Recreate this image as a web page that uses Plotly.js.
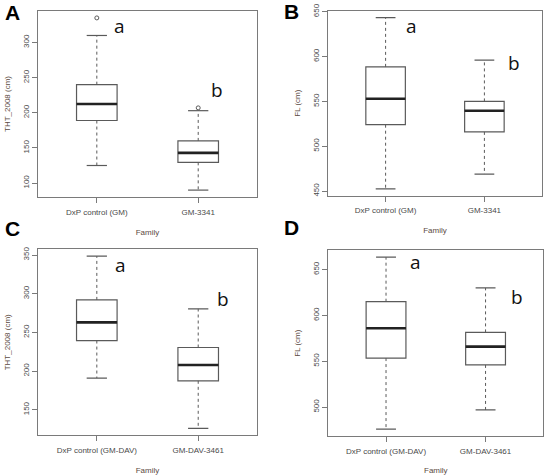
<!DOCTYPE html>
<html>
<head>
<meta charset="utf-8">
<script src="https://cdn.plot.ly/plotly-3.0.1.min.js"></script>
<style>
  body { margin: 0; background: #fff; }
  #chart { width: 550px; height: 475px; }
</style>
</head>
<body>
<div id="chart"></div>
<script>
// categories
const families_gm = ["DxP control (GM)", "GM-3341"];
const families_dav = ["DxP control (GM-DAV)", "GM-DAV-3461"];

// A: THT_2008, GM
const tht_gm_lower = [125, 90];
const tht_gm_q1 = [189, 129.5];
const tht_gm_median = [212.5, 143];
const tht_gm_q3 = [240, 160];
const tht_gm_upper = [310, 203];
const tht_gm_outliers = [[335], [207]];

// B: FL, GM
const fl_gm_lower = [452.5, 469];
const fl_gm_q1 = [524, 516];
const fl_gm_median = [553, 539.5];
const fl_gm_q3 = [588.5, 550];
const fl_gm_upper = [643.5, 596];
const fl_gm_outliers = [[], []];

// C: THT_2008, GM-DAV
const tht_dav_lower = [191, 126];
const tht_dav_q1 = [239.5, 187.5];
const tht_dav_median = [263, 208];
const tht_dav_q3 = [292, 230.5];
const tht_dav_upper = [348.5, 280.5];
const tht_dav_outliers = [[], []];

// D: FL, GM-DAV
const fl_dav_lower = [476, 497];
const fl_dav_q1 = [553.5, 546];
const fl_dav_median = [586, 566];
const fl_dav_q3 = [615, 581.5];
const fl_dav_upper = [663.5, 630];
const fl_dav_outliers = [[], []];

// tick labels
const ticks_a = [100, 150, 200, 250, 300];
const ticks_b = [450, 500, 550, 600, 650];
const ticks_c = [150, 200, 250, 300, 350];
const ticks_d = [500, 550, 600, 650];

// significance letters
const letters = ["a", "b"];

const GREY = '#5a5a5a';
const FRAME = '#7a7a7a';
const BOXW = 0.4;

const make_panel = (ax, st) => {
    const xa = 'x' + ax, ya = 'y' + ax;
    const pos = [1, 2];
    const traces = [];
    traces.push({
        type: 'box', x: pos, q1: st.q1, median: st.median, q3: st.q3,
        lowerfence: st.q1, upperfence: st.q3, width: BOXW,
        fillcolor: 'white', line: {color: GREY, width: 1.2},
        boxpoints: false, hoverinfo: 'skip', xaxis: xa, yaxis: ya
    });
    // dashed whiskers
    let wx = [], wy = [];
    pos.forEach((p, i) => {
        wx.push(p, p, null, p, p, null);
        wy.push(st.q3[i], st.upper[i], null, st.q1[i], st.lower[i], null);
    });
    traces.push({type: 'scatter', mode: 'lines', x: wx, y: wy, xaxis: xa, yaxis: ya,
        line: {color: GREY, width: 1, dash: '3px,3px'}, hoverinfo: 'skip'});
    // staples
    let sx = [], sy = [];
    pos.forEach((p, i) => {
        sx.push(p - BOXW / 4, p + BOXW / 4, null, p - BOXW / 4, p + BOXW / 4, null);
        sy.push(st.upper[i], st.upper[i], null, st.lower[i], st.lower[i], null);
    });
    traces.push({type: 'scatter', mode: 'lines', x: sx, y: sy, xaxis: xa, yaxis: ya,
        line: {color: GREY, width: 1.2}, hoverinfo: 'skip'});
    // medians
    let mx = [], my = [];
    pos.forEach((p, i) => {
        mx.push(p - BOXW / 2, p + BOXW / 2, null);
        my.push(st.median[i], st.median[i], null);
    });
    traces.push({type: 'scatter', mode: 'lines', x: mx, y: my, xaxis: xa, yaxis: ya,
        line: {color: '#222', width: 2.6}, hoverinfo: 'skip'});
    // outliers
    let ox = [], oy = [];
    pos.forEach((p, i) => st.out[i].forEach(v => { ox.push(p); oy.push(v); }));
    traces.push({type: 'scatter', mode: 'markers', x: ox, y: oy, xaxis: xa, yaxis: ya,
        marker: {symbol: 'circle-open', size: 4, color: GREY, line: {width: 1}}, hoverinfo: 'skip'});
    return traces;
};

// R style y range: data range extended by 4%
const r_range = (st) => {
    const all = [].concat(st.lower, st.upper, ...st.out);
    const lo = Math.min(...all), hi = Math.max(...all);
    const pad = (hi - lo) * 0.04;
    return [lo - pad, hi + pad];
};

const panels = [
    {ax: '', st: {lower: tht_gm_lower, q1: tht_gm_q1, median: tht_gm_median, q3: tht_gm_q3, upper: tht_gm_upper, out: tht_gm_outliers},
     fam: families_gm, ticks: ticks_a, ytitle: 'THT_2008 (cm)', dx: [0.0691, 0.4673], dy: [0.5853, 0.9768],
     let_pos: [[1.22, 324], [2.185, 232]], panel: 'A', pxy: [12.5, 12.5]},
    {ax: '2', st: {lower: fl_gm_lower, q1: fl_gm_q1, median: fl_gm_median, q3: fl_gm_q3, upper: fl_gm_upper, out: fl_gm_outliers},
     fam: families_gm, ticks: ticks_b, ytitle: 'FL (cm)', dx: [0.5969, 0.9849], dy: [0.588, 0.9775],
     let_pos: [[1.264, 633.7], [2.30, 592.9]], panel: 'B', pxy: [291, 11.5]},
    {ax: '3', st: {lower: tht_dav_lower, q1: tht_dav_q1, median: tht_dav_median, q3: tht_dav_q3, upper: tht_dav_upper, out: tht_dav_outliers},
     fam: families_dav, ticks: ticks_c, ytitle: 'THT_2008 (cm)', dx: [0.0691, 0.4673], dy: [0.0836, 0.4752],
     let_pos: [[1.235, 337.5], [2.24, 293]], panel: 'C', pxy: [12, 228]},
    {ax: '4', st: {lower: fl_dav_lower, q1: fl_dav_q1, median: fl_dav_median, q3: fl_dav_q3, upper: fl_dav_upper, out: fl_dav_outliers},
     fam: families_dav, ticks: ticks_d, ytitle: 'FL (cm)', dx: [0.5969, 0.9878], dy: [0.0821, 0.473],
     let_pos: [[1.298, 658], [2.32, 619.7]], panel: 'D', pxy: [291, 227]},
];

const W = 550, H = 475;
let data = [];
const layout = {
    width: W, height: H,
    margin: {l: 0, r: 0, t: 0, b: 0},
    paper_bgcolor: 'white', plot_bgcolor: 'white',
    showlegend: false,
    font: {family: 'Liberation Sans, Arial, sans-serif', color: '#444'},
    annotations: []
};

panels.forEach(p => {
    data = data.concat(make_panel(p.ax, p.st));
    const axis_common = {
        showline: true, mirror: true, linecolor: FRAME, linewidth: 1,
        showgrid: false, zeroline: false, ticks: 'outside', ticklen: 5,
        tickcolor: FRAME, tickwidth: 1, tickfont: {size: 8, color: '#4a4a4a'}
    };
    layout['xaxis' + p.ax] = Object.assign({}, axis_common, {
        domain: p.dx, range: [0.42, 2.58], tickvals: [1, 2], ticktext: p.fam,
        anchor: 'y' + p.ax, fixedrange: true, ticklabelstandoff: 2,
        title: {text: 'Family', font: {size: 8, color: '#5b4a42'}, standoff: 13}
    });
    layout['yaxis' + p.ax] = Object.assign({}, axis_common, {
        domain: p.dy, range: r_range(p.st), tickvals: p.ticks, tickangle: -90,
        anchor: 'x' + p.ax, fixedrange: true,
        title: {text: p.ytitle, font: {size: 8, color: '#5b4a42'}, standoff: 10}
    });
    p.let_pos.forEach(([x, y], i) => {
        layout.annotations.push({
            xref: 'x' + p.ax, yref: 'y' + p.ax, x: x, y: y, text: letters[i],
            xanchor: 'center', yanchor: 'middle',
            showarrow: false, font: {family: 'Open Sans, sans-serif', size: 19, color: '#111'}
        });
    });
    layout.annotations.push({
        xref: 'paper', yref: 'paper', x: p.pxy[0] / W, y: 1 - p.pxy[1] / H,
        xanchor: 'center', yanchor: 'middle',
        text: '<b>' + p.panel + '</b>', showarrow: false,
        font: {family: 'Liberation Sans, Arial, sans-serif', size: 21, color: '#000'}
    });
});

Plotly.newPlot('chart', data, layout, {staticPlot: true});
</script>
</body>
</html>
